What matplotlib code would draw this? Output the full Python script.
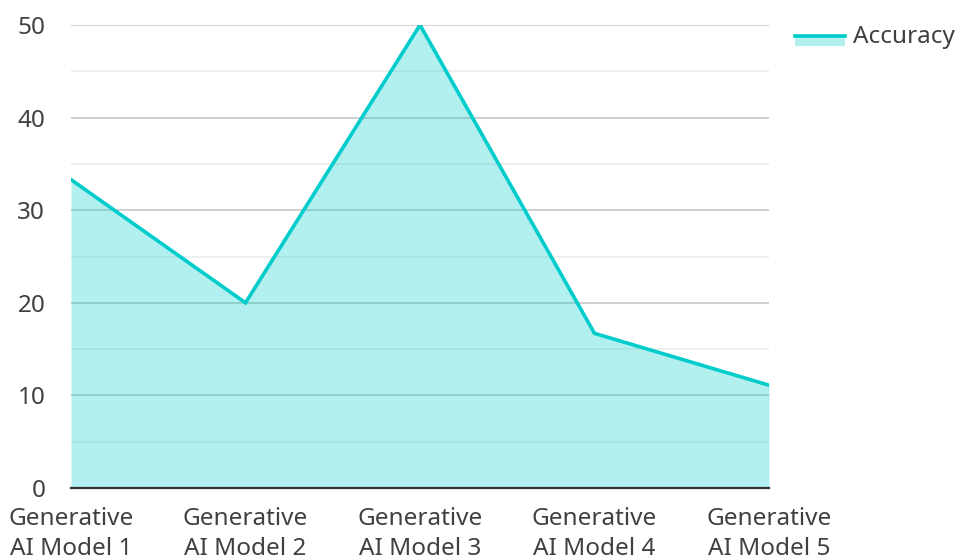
import matplotlib
matplotlib.use("Agg")
import matplotlib.pyplot as plt
from matplotlib.patches import Rectangle
from matplotlib.lines import Line2D

categories = ["Generative\nAI Model 1", "Generative\nAI Model 2", "Generative\nAI Model 3",
              "Generative\nAI Model 4", "Generative\nAI Model 5"]
accuracy = [33.3, 20.0, 50.0, 16.7, 11.1]
series_name = "Accuracy"
y_ticks = [0, 10, 20, 30, 40, 50]
y_minor = [5, 15, 25, 35, 45]

plt.rcParams["font.family"] = ["Noto Sans", "DejaVu Sans"]

LINE = "#00cccc"
FILL = "#00cccc"
TEXT = "#404040"
FS = 17.5

fig = plt.figure(figsize=(9.56, 5.57), dpi=100)
ax = fig.add_axes([71 / 956, 1 - 488 / 557, (769 - 71) / 956, (488 - 25) / 557])

x = list(range(len(categories)))
ax.set_xlim(0, len(categories) - 1)
ax.set_ylim(0, 50)

# grid: major every 10, minor every 5
for v in y_ticks[1:]:
    ax.axhline(v, color="#c8c8c8", lw=1.2, zorder=1)
for v in y_minor:
    ax.axhline(v, color="#ebebeb", lw=1.2, zorder=1)

ax.fill_between(x, accuracy, 0, color=FILL, alpha=0.3, lw=0, zorder=2)
ax.plot(x, accuracy, color=LINE, lw=2.6, zorder=3, solid_joinstyle="miter")

ax.set_yticks(y_ticks)
ax.set_yticklabels([str(v) for v in y_ticks])
ax.set_xticks(x)
ax.set_xticklabels(categories, linespacing=1.35)
ax.tick_params(axis="y", length=0, pad=18.5, labelsize=FS, labelcolor=TEXT)
ax.tick_params(axis="x", length=0, pad=13.5, labelsize=FS, labelcolor=TEXT)

for side in ("top", "right", "left"):
    ax.spines[side].set_visible(False)
ax.spines["bottom"].set_color("#333333")
ax.spines["bottom"].set_linewidth(1.6)
ax.spines["bottom"].set_zorder(4)

# legend entry
W, H = 956, 557
fig.patches.append(Rectangle((795 / W, 1 - 46 / H), 50 / W, 10 / H, transform=fig.transFigure,
                             facecolor=FILL, alpha=0.3, lw=0))
fig.lines.append(Line2D([795 / W, 845 / W], [1 - 36 / H, 1 - 36 / H], transform=fig.transFigure,
                        color=LINE, lw=2.6))
fig.text(853 / W, 1 - 37 / H, series_name, fontsize=FS, color=TEXT, va="center", ha="left")

fig.savefig("out.png", dpi=100)
